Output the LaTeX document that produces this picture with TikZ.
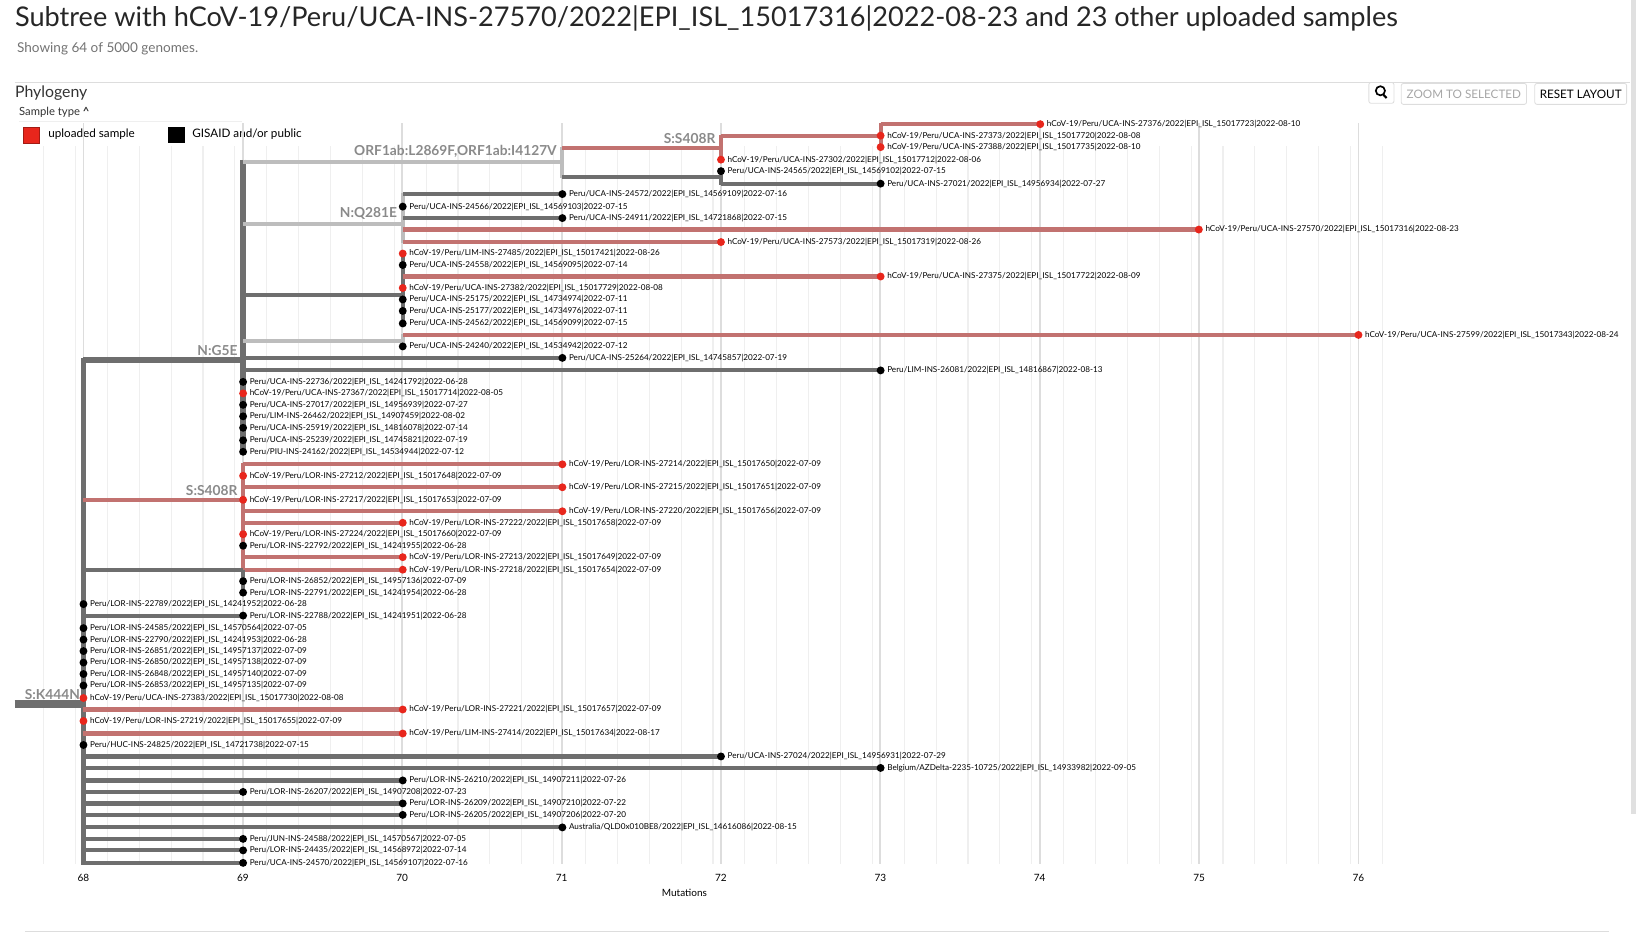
\documentclass[tikz,border=0pt]{standalone}
\usepackage{fontspec}
\setmainfont{Lato}
\definecolor{rb}{HTML}{C27270}
\definecolor{rd}{HTML}{E8261C}
\definecolor{db}{HTML}{6E6E6E}
\definecolor{lb}{HTML}{BDBDBD}
\definecolor{gl}{HTML}{EFEFEF}
\definecolor{gm}{HTML}{DDDDDD}
\definecolor{mt}{HTML}{8A8A8A}
\tikzset{
 lbl/.style={anchor=west,inner sep=0pt,font=\fontsize{3.9}{4}\selectfont},
 mut/.style={anchor=south east,inner sep=0.5pt,font=\fontsize{6.6}{7}\selectfont\bfseries,text=mt},
 dbr/.style={draw=db,line width=2pt},
 rbr/.style={draw=rb,line width=2pt},
 lbr/.style={draw=lb,line width=2pt},
 btn/.style={draw=gm,rounded corners=1pt,minimum height=10pt,inner sep=2pt,font=\fontsize{5.6}{6}\selectfont}
}
\newcommand\lf[4]{\fill[#3] (#1,#2) circle (1.9pt); \node[lbl] at (#1+6,#2) {#4};}
\newcommand\hb[4]{\draw[#4] (#1,#3) -- (#2,#3);}
\begin{document}
\begin{tikzpicture}[x=0.5pt,y=-0.5pt]
\useasboundingbox (0,0) rectangle (1568,902);
% header
\node[anchor=west,inner sep=0,font=\fontsize{13}{14}\selectfont,text=black!85] (title) at (14,18) {Subtree with hCoV-19/Peru/UCA-INS-27570/2022|EPI\_ISL\_15017316|2022-08-23 and 23 other uploaded samples};
\node[anchor=west,inner sep=0,font=\fontsize{6.5}{7}\selectfont,text=black!55] (sub) at (16,47) {Showing 64 of 5000 genomes.};
\draw[gm,line width=0.6pt] (14,79) -- (1562,79);
\node[anchor=west,inner sep=0,font=\fontsize{7.6}{8}\selectfont,text=black!80] (phy) at (14,89) {Phylogeny};
\node[anchor=west,inner sep=0,font=\fontsize{5.4}{6}\selectfont,text=black!80] (st) at (18,108) {Sample type \textbf{\^{}}};
\draw[gl] (18,116) -- (232,116);
\fill[rd] (22,122) rectangle (38,137); \draw[rd!70!black,line width=0.3pt] (22,122) rectangle (38,137);
\node[anchor=west,inner sep=0,font=\fontsize{5.6}{6}\selectfont] (l1) at (46,129) {uploaded sample};
\fill[black] (161,122) rectangle (177,137);
\node[anchor=west,inner sep=0,font=\fontsize{5.6}{6}\selectfont] (l2) at (184,129) {GISAID and/or public};
\node[btn,minimum width=12pt] (mag) at (1324,89) {};
\draw[line width=0.8pt] (1323,87) circle (2.2pt); \draw[line width=1pt] (1326,91) -- (1329,94);
\node[btn,text=black!35,minimum width=60pt] (zts) at (1403,90) {ZOOM TO SELECTED};
\node[btn,minimum width=44pt] (rst) at (1515,90) {RESET LAYOUT};
\fill[black!12] (1563,0) rectangle (1568,780);
% grid
\foreach \m in {0,...,42}{\draw[gl,line width=0.5pt] ({41.8+\m*30.55},140) -- ({41.8+\m*30.55},828);}
\foreach \m in {0,...,8}{\draw[gm,line width=0.9pt] ({80+\m*152.75},118) -- ({80+\m*152.75},828);
 \node[font=\fontsize{4.8}{5}\selectfont,inner sep=0] at ({80+\m*152.75},841) {\the\numexpr68+\m\relax};}
\node[font=\fontsize{4.8}{5}\selectfont,inner sep=0] (mx) at (656,856) {Mutations};
\draw[gm,line width=0.6pt] (24,893) -- (1542,893);
% ---- tree ----
\draw[db,line width=4pt] (14,675) -- (80,675);
\node[mut] at (78,672) {S:K444N};
\draw[db,line width=2.6pt] (80,343) -- (80,829);
% N:G5E clade
\hb{80}{233}{345}{dbr,line width=2.6pt}
\node[mut] at (229,342) {N:G5E};
\draw[db,line width=2.6pt] (233,153) -- (233,434);
% ORF1ab
\hb{233}{539}{155}{lbr}
\node[mut] at (535,152) {ORF1ab:L2869F,ORF1ab:I4127V};
\draw[lb,line width=2pt] (539,141) -- (539,171);
\hb{539}{691}{142}{rbr}
\node[mut] at (687,139) {S:S408R};
\draw[rb,line width=2pt] (691,129) -- (691,154);
\hb{691}{844}{130}{rbr}
\draw[rb,line width=2pt] (844,118) -- (844,142);
\hb{844}{997}{119}{rbr}
\lf{997}{119}{rd}{hCoV-19/Peru/UCA-INS-27376/2022|EPI\_ISL\_15017723|2022-08-10}
\lf{844}{130}{rd}{hCoV-19/Peru/UCA-INS-27373/2022|EPI\_ISL\_15017720|2022-08-08}
\lf{844}{141}{rd}{hCoV-19/Peru/UCA-INS-27388/2022|EPI\_ISL\_15017735|2022-08-10}
\lf{691}{153}{rd}{hCoV-19/Peru/UCA-INS-27302/2022|EPI\_ISL\_15017712|2022-08-06}
\hb{539}{691}{170}{dbr}
\draw[db,line width=2pt] (691,163) -- (691,177);
\lf{691}{164}{black}{Peru/UCA-INS-24565/2022|EPI\_ISL\_14569102|2022-07-15}
\hb{691}{844}{176}{dbr}
\lf{844}{176}{black}{Peru/UCA-INS-27021/2022|EPI\_ISL\_14956934|2022-07-27}
% N:Q281E
\hb{233}{386}{215}{lbr}
\node[mut] at (382,212) {N:Q281E};
\draw[lb,line width=2pt] (386,185) -- (386,233);
\hb{386}{539}{186}{dbr}
\lf{539}{186}{black}{Peru/UCA-INS-24572/2022|EPI\_ISL\_14569109|2022-07-16}
\lf{386}{198}{black}{Peru/UCA-INS-24566/2022|EPI\_ISL\_14569103|2022-07-15}
\hb{386}{539}{209}{dbr}
\lf{539}{209}{black}{Peru/UCA-INS-24911/2022|EPI\_ISL\_14721868|2022-07-15}
\hb{386}{1149}{220}{rbr}
\lf{1149}{220}{rd}{hCoV-19/Peru/UCA-INS-27570/2022|EPI\_ISL\_15017316|2022-08-23}
\hb{386}{691}{232}{rbr}
\lf{691}{232}{rd}{hCoV-19/Peru/UCA-INS-27573/2022|EPI\_ISL\_15017319|2022-08-26}
% polytomy at 386
\hb{233}{386}{283}{dbr}
\draw[db,line width=2pt] (386,242) -- (386,311);
\lf{386}{243}{rd}{hCoV-19/Peru/LIM-INS-27485/2022|EPI\_ISL\_15017421|2022-08-26}
\lf{386}{254}{black}{Peru/UCA-INS-24558/2022|EPI\_ISL\_14569095|2022-07-14}
\hb{386}{844}{265}{rbr}
\lf{844}{265}{rd}{hCoV-19/Peru/UCA-INS-27375/2022|EPI\_ISL\_15017722|2022-08-09}
\lf{386}{276}{rd}{hCoV-19/Peru/UCA-INS-27382/2022|EPI\_ISL\_15017729|2022-08-08}
\lf{386}{287}{black}{Peru/UCA-INS-25175/2022|EPI\_ISL\_14734974|2022-07-11}
\lf{386}{298}{black}{Peru/UCA-INS-25177/2022|EPI\_ISL\_14734976|2022-07-11}
\lf{386}{310}{black}{Peru/UCA-INS-24562/2022|EPI\_ISL\_14569099|2022-07-15}
\hb{233}{386}{327}{lbr}
\draw[lb,line width=2pt] (386,320) -- (386,333);
\hb{386}{1302}{321}{rbr}
\lf{1302}{321}{rd}{hCoV-19/Peru/UCA-INS-27599/2022|EPI\_ISL\_15017343|2022-08-24}
\lf{386}{332}{black}{Peru/UCA-INS-24240/2022|EPI\_ISL\_14534942|2022-07-12}
\hb{233}{539}{343}{dbr}
\lf{539}{343}{black}{Peru/UCA-INS-25264/2022|EPI\_ISL\_14745857|2022-07-19}
\hb{233}{844}{355}{dbr}
\lf{844}{355}{black}{Peru/LIM-INS-26081/2022|EPI\_ISL\_14816867|2022-08-13}
\lf{233}{366}{black}{Peru/UCA-INS-22736/2022|EPI\_ISL\_14241792|2022-06-28}
\lf{233}{377}{rd}{hCoV-19/Peru/UCA-INS-27367/2022|EPI\_ISL\_15017714|2022-08-05}
\lf{233}{388}{black}{Peru/UCA-INS-27017/2022|EPI\_ISL\_14956939|2022-07-27}
\lf{233}{399}{black}{Peru/LIM-INS-26462/2022|EPI\_ISL\_14907459|2022-08-02}
\lf{233}{410}{black}{Peru/UCA-INS-25919/2022|EPI\_ISL\_14816078|2022-07-14}
\lf{233}{422}{black}{Peru/UCA-INS-25239/2022|EPI\_ISL\_14745821|2022-07-19}
\lf{233}{433}{black}{Peru/PIU-INS-24162/2022|EPI\_ISL\_14534944|2022-07-12}
% S:S408R clade
\hb{80}{233}{479}{rbr}
\node[mut] at (229,476) {S:S408R};
\draw[rb,line width=2pt] (233,444) -- (233,547);
\hb{233}{539}{445}{rbr}
\lf{539}{445}{rd}{hCoV-19/Peru/LOR-INS-27214/2022|EPI\_ISL\_15017650|2022-07-09}
\lf{233}{456}{rd}{hCoV-19/Peru/LOR-INS-27212/2022|EPI\_ISL\_15017648|2022-07-09}
\hb{233}{539}{467}{rbr}
\lf{539}{467}{rd}{hCoV-19/Peru/LOR-INS-27215/2022|EPI\_ISL\_15017651|2022-07-09}
\lf{233}{479}{rd}{hCoV-19/Peru/LOR-INS-27217/2022|EPI\_ISL\_15017653|2022-07-09}
\hb{233}{539}{490}{rbr}
\lf{539}{490}{rd}{hCoV-19/Peru/LOR-INS-27220/2022|EPI\_ISL\_15017656|2022-07-09}
\hb{233}{386}{501}{rbr}
\lf{386}{501}{rd}{hCoV-19/Peru/LOR-INS-27222/2022|EPI\_ISL\_15017658|2022-07-09}
\lf{233}{512}{rd}{hCoV-19/Peru/LOR-INS-27224/2022|EPI\_ISL\_15017660|2022-07-09}
\lf{233}{523}{black}{Peru/LOR-INS-22792/2022|EPI\_ISL\_14241955|2022-06-28}
\hb{233}{386}{534}{rbr}
\lf{386}{534}{rd}{hCoV-19/Peru/LOR-INS-27213/2022|EPI\_ISL\_15017649|2022-07-09}
\hb{233}{386}{546}{rbr}
\lf{386}{546}{rd}{hCoV-19/Peru/LOR-INS-27218/2022|EPI\_ISL\_15017654|2022-07-09}
% small clade
\hb{80}{233}{546}{dbr}
\draw[db,line width=2pt] (233,546) -- (233,569);
\lf{233}{557}{black}{Peru/LOR-INS-26852/2022|EPI\_ISL\_14957136|2022-07-09}
\lf{233}{568}{black}{Peru/LOR-INS-22791/2022|EPI\_ISL\_14241954|2022-06-28}
% root leaves
\lf{80}{579}{black}{Peru/LOR-INS-22789/2022|EPI\_ISL\_14241952|2022-06-28}
\hb{80}{233}{590}{dbr}
\lf{233}{590}{black}{Peru/LOR-INS-22788/2022|EPI\_ISL\_14241951|2022-06-28}
\lf{80}{602}{black}{Peru/LOR-INS-24585/2022|EPI\_ISL\_14570564|2022-07-05}
\lf{80}{613}{black}{Peru/LOR-INS-22790/2022|EPI\_ISL\_14241953|2022-06-28}
\lf{80}{624}{black}{Peru/LOR-INS-26851/2022|EPI\_ISL\_14957137|2022-07-09}
\lf{80}{635}{black}{Peru/LOR-INS-26850/2022|EPI\_ISL\_14957138|2022-07-09}
\lf{80}{646}{black}{Peru/LOR-INS-26848/2022|EPI\_ISL\_14957140|2022-07-09}
\lf{80}{657}{black}{Peru/LOR-INS-26853/2022|EPI\_ISL\_14957135|2022-07-09}
\lf{80}{669}{rd}{hCoV-19/Peru/UCA-INS-27383/2022|EPI\_ISL\_15017730|2022-08-08}
\hb{80}{386}{680}{rbr}
\lf{386}{680}{rd}{hCoV-19/Peru/LOR-INS-27221/2022|EPI\_ISL\_15017657|2022-07-09}
\lf{80}{691}{rd}{hCoV-19/Peru/LOR-INS-27219/2022|EPI\_ISL\_15017655|2022-07-09}
\hb{80}{386}{703}{rbr}
\lf{386}{703}{rd}{hCoV-19/Peru/LIM-INS-27414/2022|EPI\_ISL\_15017634|2022-08-17}
\lf{80}{714}{black}{Peru/HUC-INS-24825/2022|EPI\_ISL\_14721738|2022-07-15}
\hb{80}{691}{725}{dbr}
\lf{691}{725}{black}{Peru/UCA-INS-27024/2022|EPI\_ISL\_14956931|2022-07-29}
\hb{80}{844}{736}{dbr}
\lf{844}{736}{black}{Belgium/AZDelta-2235-10725/2022|EPI\_ISL\_14933982|2022-09-05}
\hb{80}{386}{748}{dbr}
\lf{386}{748}{black}{Peru/LOR-INS-26210/2022|EPI\_ISL\_14907211|2022-07-26}
\hb{80}{233}{759}{dbr}
\lf{233}{759}{black}{Peru/LOR-INS-26207/2022|EPI\_ISL\_14907208|2022-07-23}
\hb{80}{386}{770}{dbr}
\lf{386}{770}{black}{Peru/LOR-INS-26209/2022|EPI\_ISL\_14907210|2022-07-22}
\hb{80}{386}{781}{dbr}
\lf{386}{781}{black}{Peru/LOR-INS-26205/2022|EPI\_ISL\_14907206|2022-07-20}
\hb{80}{539}{793}{dbr}
\lf{539}{793}{black}{Australia/QLD0x010BE8/2022|EPI\_ISL\_14616086|2022-08-15}
\hb{80}{233}{804}{dbr}
\lf{233}{804}{black}{Peru/JUN-INS-24588/2022|EPI\_ISL\_14570567|2022-07-05}
\hb{80}{233}{815}{dbr}
\lf{233}{815}{black}{Peru/LOR-INS-24435/2022|EPI\_ISL\_14568972|2022-07-14}
\hb{80}{233}{827}{dbr}
\lf{233}{827}{black}{Peru/UCA-INS-24570/2022|EPI\_ISL\_14569107|2022-07-16}
\end{tikzpicture}
\end{document}
